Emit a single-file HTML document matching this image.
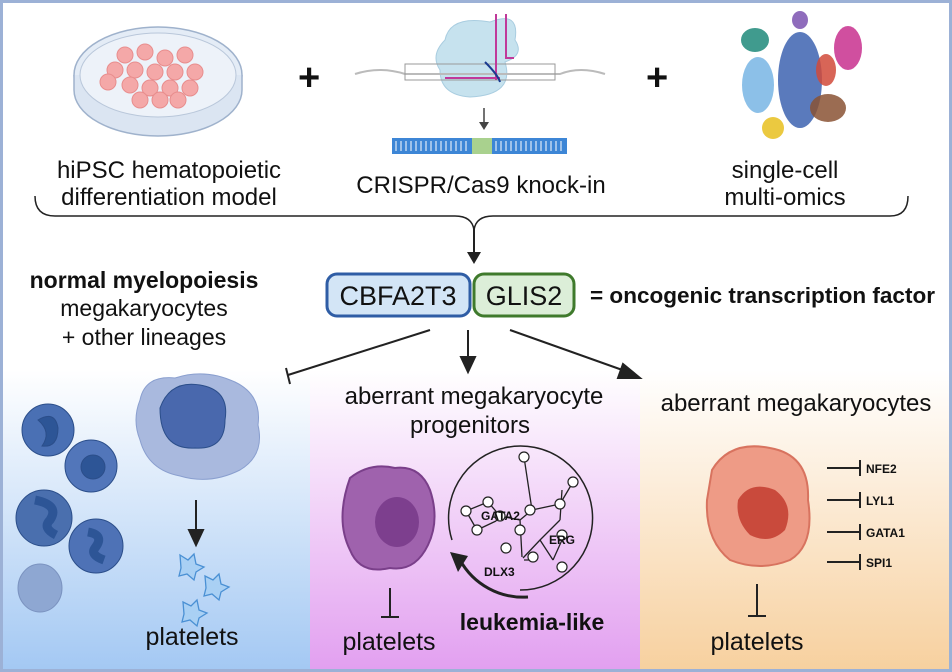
<!DOCTYPE html>
<html><head><meta charset="utf-8"><style>
html,body{margin:0;padding:0;background:#fff}
svg{display:block}
text{font-family:"Liberation Sans",sans-serif;fill:#111}
</style></head><body>
<svg width="952" height="672" viewBox="0 0 952 672" xmlns="http://www.w3.org/2000/svg">
<defs>
<linearGradient id="gb" x1="0" y1="0" x2="0" y2="1"><stop offset="0" stop-color="#fff"/><stop offset="1" stop-color="#a3c8f3"/></linearGradient>
<linearGradient id="gp" x1="0" y1="0" x2="0" y2="1"><stop offset="0" stop-color="#fff"/><stop offset="1" stop-color="#e29ff0"/></linearGradient>
<linearGradient id="go" x1="0" y1="0" x2="0" y2="1"><stop offset="0" stop-color="#fff"/><stop offset="1" stop-color="#f7d09e"/></linearGradient>
</defs>
<rect width="952" height="672" fill="#fff"/>
<rect x="0" y="370" width="310" height="302" fill="url(#gb)"/>
<rect x="310" y="370" width="330" height="302" fill="url(#gp)"/>
<rect x="640" y="370" width="312" height="302" fill="url(#go)"/>
<rect x="1.5" y="1.5" width="949" height="669" fill="none" stroke="#9cb1d6" stroke-width="3"/>

<!-- petri dish -->
<ellipse cx="158" cy="75" rx="84" ry="48" fill="#e4ecf6" stroke="#9fb2cc" stroke-width="1.5"/>
<path d="M74,75 L74,90 A84,46 0 0 0 242,90 L242,75" fill="#dbe5f2" stroke="#9fb2cc" stroke-width="1.5"/>
<ellipse cx="158" cy="75" rx="78" ry="42" fill="#edf2f9" stroke="#b9c7da"/>
<g fill="#f4a8a8" stroke="#e88d8d">
<circle cx="125" cy="55" r="8"/><circle cx="145" cy="52" r="8"/><circle cx="165" cy="58" r="8"/><circle cx="185" cy="55" r="8"/><circle cx="115" cy="70" r="8"/><circle cx="135" cy="70" r="8"/><circle cx="155" cy="72" r="8"/><circle cx="175" cy="72" r="8"/><circle cx="195" cy="72" r="8"/><circle cx="130" cy="85" r="8"/><circle cx="150" cy="88" r="8"/><circle cx="170" cy="88" r="8"/><circle cx="190" cy="88" r="8"/><circle cx="108" cy="82" r="8"/><circle cx="160" cy="100" r="8"/><circle cx="178" cy="100" r="8"/><circle cx="140" cy="100" r="8"/>
</g>
<text x="298" y="90" font-size="38" font-weight="bold">+</text>
<text x="646" y="90" font-size="38" font-weight="bold">+</text>

<!-- CRISPR -->
<path d="M445,40 Q450,15 490,22 Q520,10 515,40 Q525,55 505,62 Q515,95 470,97 Q440,95 440,70 Q430,55 445,40Z" fill="#c6e2ee" stroke="#a9cde0"/>
<path d="M355,74 Q380,66 405,74 L560,74 Q580,66 605,74" fill="none" stroke="#bbb" stroke-width="2"/>
<rect x="405" y="64" width="150" height="16" fill="none" stroke="#999"/>
<path d="M496,14 L496,80 M506,14 L506,58 L514,58" fill="none" stroke="#c0399a" stroke-width="2"/>
<path d="M445,78 L500,78" stroke="#c0399a" stroke-width="2"/>
<path d="M485,62 Q498,75 500,82" stroke="#1a3a8f" stroke-width="2" fill="none"/>
<line x1="484" y1="108" x2="484" y2="124" stroke="#444" stroke-width="1.5"/>
<path d="M479,122 L484,130 L489,122Z" fill="#444"/>
<rect x="392" y="138" width="175" height="16" fill="#3d86d6"/>
<rect x="472" y="138" width="20" height="16" fill="#a9d18e"/>
<g stroke="#fff" stroke-width="1">
<path d="M396,141 V151 M401,141 V151 M406,141 V151 M411,141 V151 M416,141 V151 M421,141 V151 M426,141 V151 M431,141 V151 M436,141 V151 M441,141 V151 M446,141 V151 M451,141 V151 M456,141 V151 M461,141 V151 M466,141 V151 M496,141 V151 M501,141 V151 M506,141 V151 M511,141 V151 M516,141 V151 M521,141 V151 M526,141 V151 M531,141 V151 M536,141 V151 M541,141 V151 M546,141 V151 M551,141 V151 M556,141 V151 M561,141 V151"/>
</g>

<!-- scatter clusters -->
<g>
<ellipse cx="755" cy="40" rx="14" ry="12" fill="#1e8a7a" opacity=".85"/>
<ellipse cx="800" cy="20" rx="8" ry="9" fill="#7b52b0" opacity=".85"/>
<ellipse cx="800" cy="80" rx="22" ry="48" fill="#3d63b0" opacity=".85"/>
<ellipse cx="758" cy="85" rx="16" ry="28" fill="#78b5e4" opacity=".85"/>
<ellipse cx="848" cy="48" rx="14" ry="22" fill="#c8308e" opacity=".85"/>
<ellipse cx="826" cy="70" rx="10" ry="16" fill="#d14a3a" opacity=".85"/>
<ellipse cx="828" cy="108" rx="18" ry="14" fill="#8a5234" opacity=".85"/>
<ellipse cx="773" cy="128" rx="11" ry="11" fill="#e8c01e" opacity=".85"/>
</g>

<g font-size="24" text-anchor="middle">
<text x="169" y="178">hiPSC hematopoietic</text>
<text x="169" y="205">differentiation model</text>
<text x="481" y="193">CRISPR/Cas9 knock-in</text>
<text x="785" y="178">single-cell</text>
<text x="785" y="205">multi-omics</text>
</g>

<!-- brace -->
<path d="M35,196 Q35,216 55,216 L455,216 Q472,216 474,230 Q476,216 493,216 L890,216 Q908,216 908,196" fill="none" stroke="#222" stroke-width="1.5"/>
<line x1="474" y1="228" x2="474" y2="255" stroke="#222" stroke-width="2"/>
<path d="M467,252 L474,264 L481,252Z" fill="#222"/>

<!-- fusion -->
<rect x="327" y="274" width="143" height="42" rx="10" fill="#d3e5f6" stroke="#2f5da5" stroke-width="3"/>
<text x="398" y="305" font-size="27" text-anchor="middle">CBFA2T3</text>
<rect x="474" y="274" width="100" height="42" rx="10" fill="#dceed8" stroke="#3f7a2c" stroke-width="3"/>
<text x="524" y="305" font-size="27" text-anchor="middle">GLIS2</text>
<text x="590" y="303" font-size="22" font-weight="bold" textLength="345" lengthAdjust="spacingAndGlyphs">= oncogenic transcription factor</text>

<text x="144" y="288" font-size="23" font-weight="bold" text-anchor="middle">normal myelopoiesis</text>
<text x="144" y="316" font-size="23" text-anchor="middle">megakaryocytes</text>
<text x="144" y="345" font-size="23" text-anchor="middle">+ other lineages</text>

<!-- arrows -->
<g stroke="#222" stroke-width="2" fill="#222">
<line x1="430" y1="330" x2="288" y2="375"/>
<line x1="286" y1="368" x2="290" y2="384"/>
<line x1="468" y1="330" x2="468" y2="360"/>
<path d="M461,357 L468,372 L475,357Z"/>
<line x1="510" y1="330" x2="628" y2="372"/>
<path d="M623,364 L640,378 L618,378Z"/>
<line x1="196" y1="500" x2="196" y2="533"/>
<path d="M189,530 L196,545 L203,530Z"/>
<line x1="390" y1="588" x2="390" y2="617"/><line x1="381" y1="617" x2="399" y2="617"/>
<line x1="757" y1="584" x2="757" y2="616"/><line x1="748" y1="616" x2="766" y2="616"/>
<line x1="827" y1="468" x2="860" y2="468"/><line x1="860" y1="460" x2="860" y2="476"/>
<line x1="827" y1="500" x2="860" y2="500"/><line x1="860" y1="492" x2="860" y2="508"/>
<line x1="827" y1="532" x2="860" y2="532"/><line x1="860" y1="524" x2="860" y2="540"/>
<line x1="827" y1="562" x2="860" y2="562"/><line x1="860" y1="554" x2="860" y2="570"/>
</g>
<g font-size="12" font-weight="bold">
<text x="866" y="473">NFE2</text><text x="866" y="505">LYL1</text><text x="866" y="537">GATA1</text><text x="866" y="567">SPI1</text>
</g>

<text x="474" y="404" font-size="24" text-anchor="middle">aberrant megakaryocyte</text>
<text x="470" y="433" font-size="24" text-anchor="middle">progenitors</text>
<text x="796" y="411" font-size="24" text-anchor="middle">aberrant megakaryocytes</text>

<!-- left cells -->
<g stroke="#2b4e8a" stroke-width="1">
<circle cx="48" cy="430" r="26" fill="#4a70b4"/>
<path d="M38,420 Q55,410 58,428 Q58,448 42,446 Q52,432 38,420Z" fill="#2d5596"/>
<circle cx="91" cy="466" r="26" fill="#5276ba"/>
<circle cx="93" cy="467" r="12" fill="#2d5596"/>
<circle cx="44" cy="518" r="28" fill="#4a6fae"/>
<path d="M35,500 Q60,505 50,520 Q42,528 56,535" fill="none" stroke="#2d5596" stroke-width="9"/>
<circle cx="96" cy="546" r="27" fill="#4e72b6"/>
<path d="M88,532 Q105,535 95,548 Q90,555 104,560" fill="none" stroke="#2d5596" stroke-width="9"/>
<ellipse cx="40" cy="588" rx="22" ry="24" fill="#8ea7d2" stroke="#7b93c0"/>
<path d="M140,400 Q145,375 175,378 Q205,368 235,382 Q262,395 258,425 Q265,455 240,470 Q210,485 180,476 Q148,470 140,440 Q132,420 140,400Z" fill="#a9b9de" stroke="#8a9fcf"/>
<path d="M160,408 Q170,380 200,385 Q230,390 225,420 Q225,450 195,448 Q160,450 160,408Z" fill="#4968ad"/>
</g>
<g fill="#a9d0f4" stroke="#4a90d4" stroke-width="1.3">
<path d="M180,555 l8,5 l6,-6 l2,10 l8,3 l-8,5 l-2,8 l-7,-6 l-8,2 l2,-8 z"/>
<path d="M205,576 l8,4 l6,-6 l2,10 l8,3 l-8,5 l-2,8 l-7,-6 l-8,2 l2,-8 z"/>
<path d="M183,602 l8,4 l6,-6 l2,10 l8,3 l-8,5 l-2,8 l-7,-6 l-8,2 l2,-8 z"/>
</g>
<text x="192" y="645" font-size="25" text-anchor="middle">platelets</text>

<!-- purple cell -->
<path d="M350,478 Q370,462 395,468 Q420,465 430,490 Q440,520 428,545 Q415,572 390,568 Q360,575 350,550 Q335,520 350,478Z" fill="#9f62ad" stroke="#7a3f8a" stroke-width="2"/>
<ellipse cx="397" cy="522" rx="22" ry="25" fill="#7d3f8e"/>
<text x="389" y="650" font-size="25" text-anchor="middle">platelets</text>

<!-- network circle -->
<path d="M452,540 A72,72 0 1 1 520,590" fill="none" stroke="#222" stroke-width="1.5"/>
<path d="M528,597 A72,72 0 0 1 460,560" fill="none" stroke="#222" stroke-width="3"/>
<path d="M450,552 L458,572 L468,556Z" fill="#222"/>
<g stroke="#222" stroke-width="1.3" fill="none">
<path d="M524,560 L530,560 M523,558 L540,540 M540,540 L560,520 M560,520 L562,490 M522,557 L520,520 M520,520 L500,516 M520,520 L532,510 M532,510 L560,504 M532,510 L524,457 M500,516 L488,502 M488,502 L466,511 M466,511 L477,530 M477,530 L496,521 M496,521 L500,516 M560,504 L573,482 M540,540 L553,560 M553,560 L562,540"/>
</g>
<g fill="#fff" stroke="#222" stroke-width="1.2">
<circle cx="524" cy="457" r="5"/><circle cx="573" cy="482" r="5"/><circle cx="500" cy="516" r="5"/><circle cx="530" cy="510" r="5"/><circle cx="560" cy="504" r="5"/><circle cx="488" cy="502" r="5"/><circle cx="466" cy="511" r="5"/><circle cx="477" cy="530" r="5"/><circle cx="520" cy="530" r="5"/><circle cx="506" cy="548" r="5"/><circle cx="533" cy="557" r="5"/><circle cx="562" cy="567" r="5"/><circle cx="562" cy="535" r="5"/>
</g>
<g font-size="12" font-weight="bold"><text x="481" y="520">GATA2</text><text x="549" y="544">ERG</text><text x="484" y="576">DLX3</text></g>
<text x="532" y="630" font-size="23" font-weight="bold" text-anchor="middle">leukemia-like</text>

<!-- orange cell -->
<path d="M712,470 Q730,440 770,448 Q810,455 808,500 Q815,545 790,560 Q760,572 730,560 Q705,540 707,500Z" fill="#ee9b86" stroke="#d8735f" stroke-width="2"/>
<path d="M738,500 Q750,480 775,490 Q795,505 785,530 Q770,545 750,535 Q735,520 738,500Z" fill="#c94a3c"/>
<text x="757" y="650" font-size="25" text-anchor="middle">platelets</text>
</svg>
</body></html>
